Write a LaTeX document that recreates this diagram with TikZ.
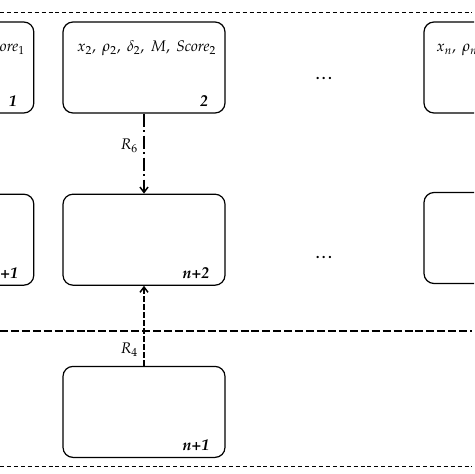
\documentclass[tikz,border=0pt]{standalone}
\usepackage[T1]{fontenc}
\usepackage{mathpazo}
\usepackage{tikz}
\usetikzlibrary{positioning,arrows.meta}

\tikzset{
  stage/.style={draw, rounded corners=7.5pt, line width=0.9pt, minimum width=121.5pt, minimum height=68.25pt},
  vals/.style={inner sep=0pt, font=\fontsize{11.5}{14}\selectfont},
  idx/.style={inner sep=0pt, anchor=south east, font=\fontsize{12}{14}\selectfont\bfseries\itshape},
  lane/.style={dashed, dash pattern=on 3pt off 2.2pt, line width=0.6pt},
  mainlane/.style={dash pattern=on 6pt off 2.2pt, line width=1.4pt},
  parent/.style={-{Straight Barb[length=4pt,width=6pt]}, line width=1.1pt, dash pattern=on 10pt off 2.5pt on 1.5pt off 2.5pt},
  child/.style={-{Straight Barb[length=4pt,width=6pt]}, line width=1.1pt, dash pattern=on 4pt off 2pt}
}

\begin{document}
\begin{tikzpicture}[x=0.75pt, y=-0.75pt, node distance=60pt and 21pt]
  \useasboundingbox (0,0) rectangle (474,474);
  \clip (0,0) rectangle (474,474);

  % top row
  \node (b2) [stage] at (144,67.5) {};
  \node (b1) [stage, left=of b2] {};
  \node (bn) [stage] at (505,67.5) {};
  % middle row
  \node (m2) [stage, below=of b2] {};
  \node (m1) [stage, left=of m2] {};
  \node (mn) [stage] at (505,238) {};
  % bottom row
  \node (low) [stage, below=of m2] {};

  \node (t1) [vals] at ([xshift=2pt,yshift=-20.25pt]b1.north) {$x_1,\ \rho_1,\ \delta_1,\ M,\ \mathit{Score}_1$};
  \node (t2) [vals] at ([xshift=2pt,yshift=-20.25pt]b2.north) {$x_2,\ \rho_2,\ \delta_2,\ M,\ \mathit{Score}_2$};
  \node (tn) [vals] at ([xshift=2pt,yshift=-20.25pt]bn.north) {$x_n,\ \rho_n,\ \delta_n,\ M,\ \mathit{Score}_n$};

  \node (i1) [idx] at ([xshift=-13pt,yshift=5pt]b1.south east) {1};
  \node (i2) [idx] at ([xshift=-13pt,yshift=5pt]b2.south east) {2};
  \node (im1) [idx] at ([xshift=-12pt,yshift=5pt]m1.south east) {n+1};
  \node (im2) [idx] at ([xshift=-12pt,yshift=5pt]m2.south east) {n+2};
  \node (ilow) [idx] at ([xshift=-12pt,yshift=5pt]low.south east) {n+1};

  \node (dots1) [vals] at (325,79) {\textbf{\ldots}};
  \node (dots2) [vals] at (325,258) {\textbf{\ldots}};

  \coordinate (topl) at (0,12);
  \coordinate (topr) at (472,12);
  \coordinate (midl) at (0,331);
  \coordinate (midr) at (472,331);
  \coordinate (botl) at (0,466);
  \coordinate (botr) at (472,466);
  \draw[lane] (topl) -- (topr);
  \draw[mainlane] (midl) -- (midr);
  \draw[lane] (botl) -- (botr);

  \draw[parent] (b2) -- (m2) node (r6) [pos=0.4, left=4pt, vals] {$R_6$};
  \draw[child] (low) -- (m2) node (r4) [pos=0.2, left=4pt, vals] {$R_4$};
\end{tikzpicture}
\end{document}
